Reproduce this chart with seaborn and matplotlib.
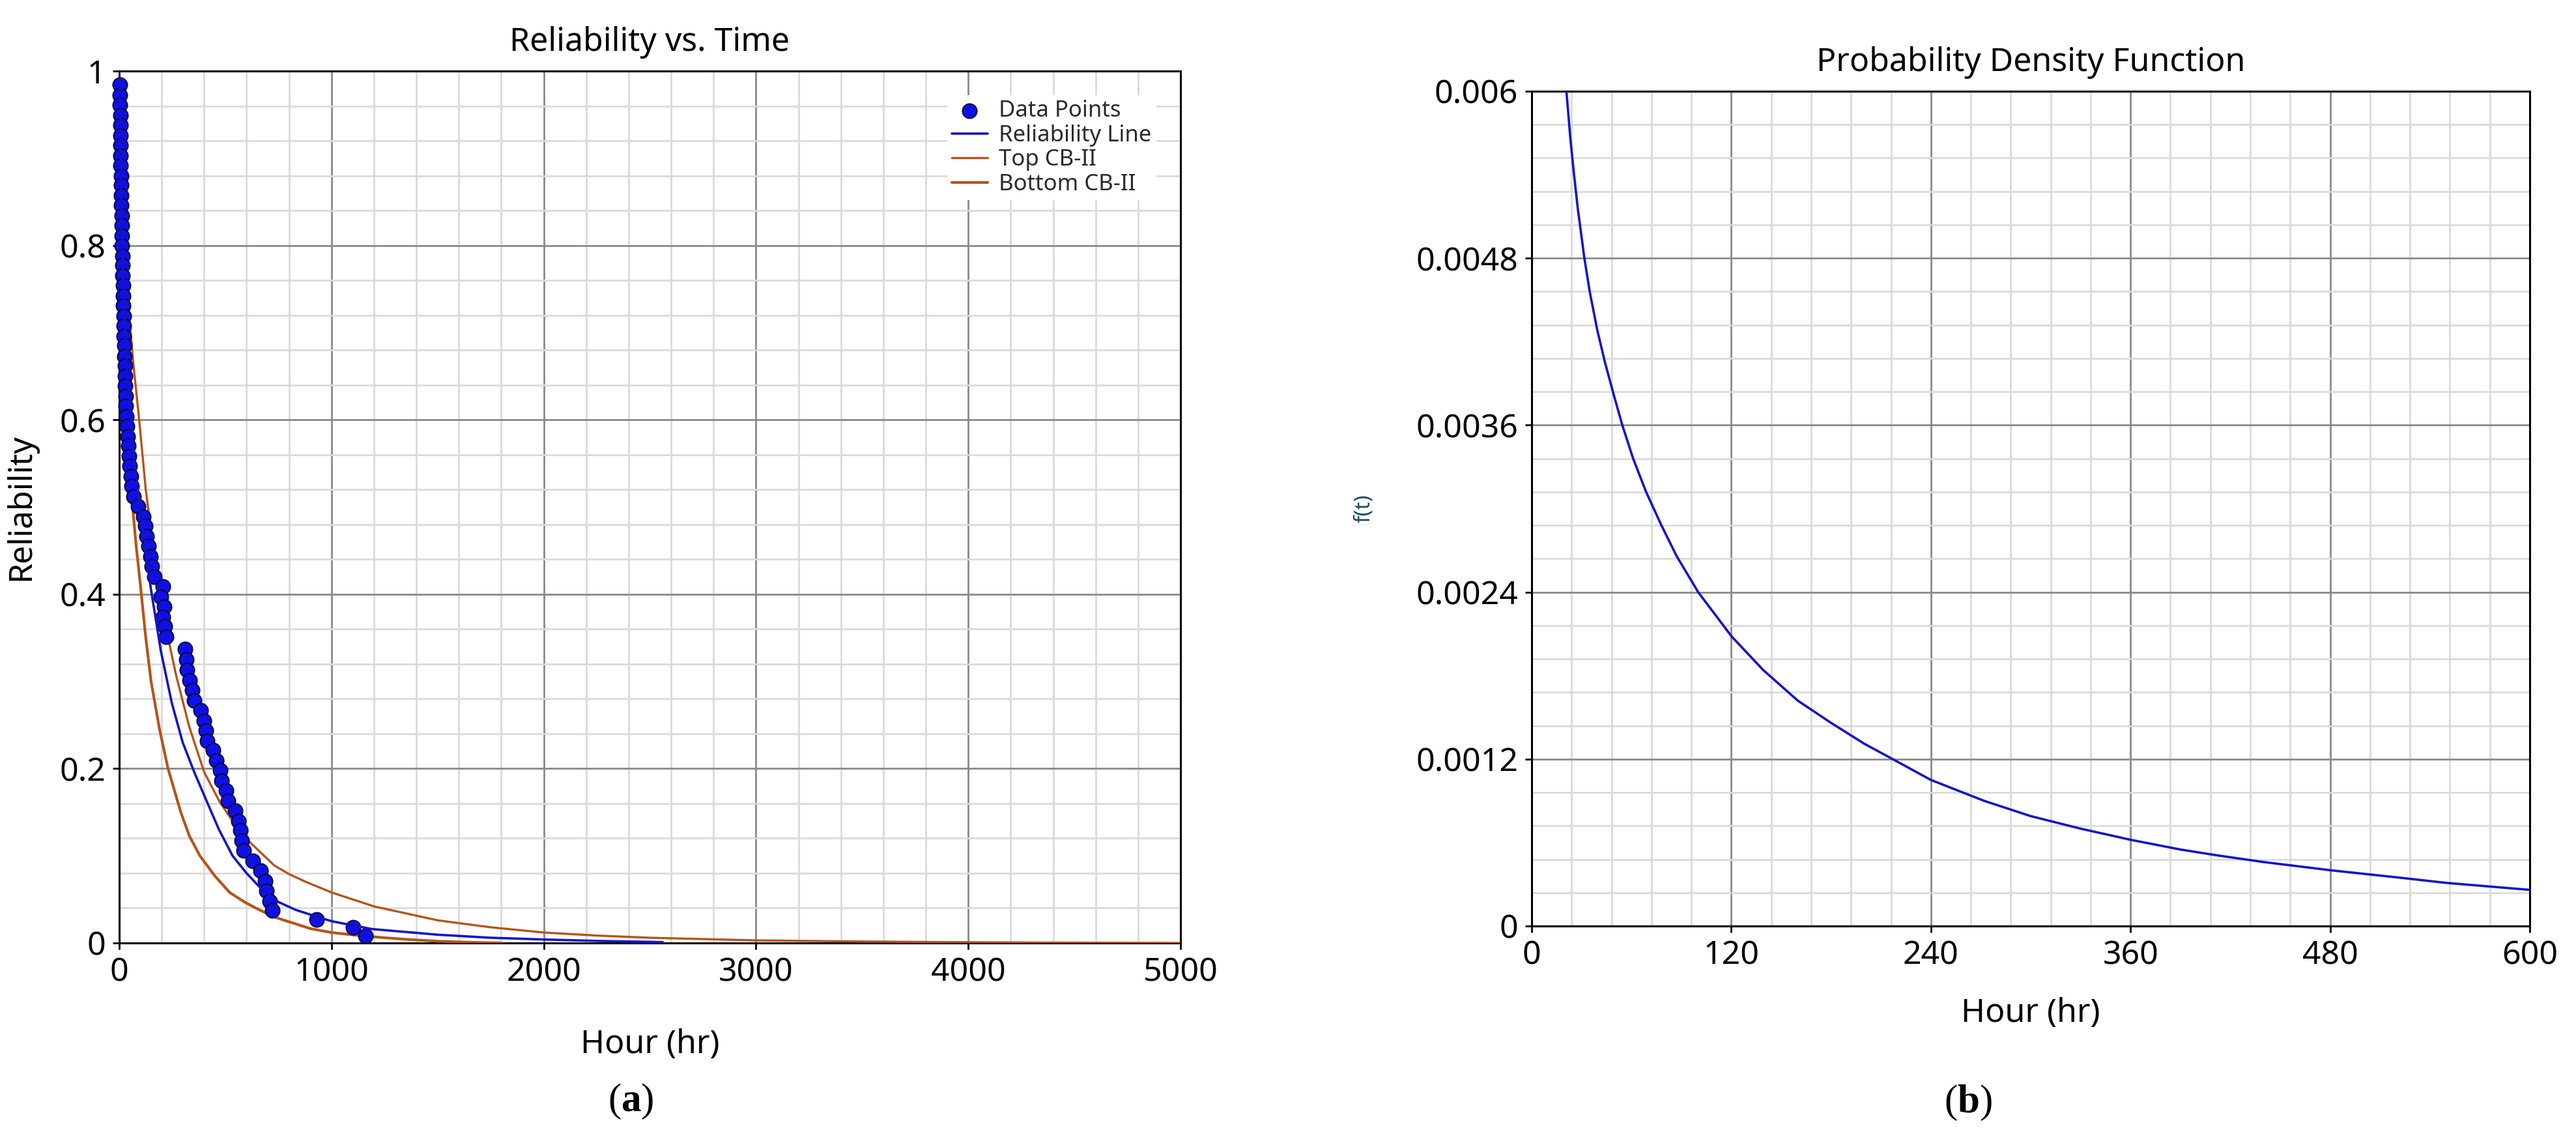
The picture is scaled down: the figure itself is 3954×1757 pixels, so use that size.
import numpy as np
import pandas as pd
import matplotlib
matplotlib.use('Agg')
import matplotlib.pyplot as plt
import seaborn as sns
from matplotlib.ticker import MultipleLocator, FixedLocator

# ---------------- data ----------------
data_hours = [3, 4, 4, 5, 5, 6, 6, 7, 7, 8, 9, 10, 10, 11, 12, 12, 13, 14, 15, 16,
              17, 18, 19, 20, 21, 22, 24, 25, 27, 28,
              28, 30, 32, 35, 38, 40, 43, 46, 50, 54, 58,
              68, 88,
              115, 122, 130, 138, 146, 155, 165,
              205, 195, 212, 205, 215, 220,
              311, 315, 318, 331, 344, 354, 384, 398, 409, 413, 443, 457, 476, 482,
              502, 512, 547, 561, 571, 577, 587, 630, 665, 689, 695, 709, 722,
              931, 1102, 1161]
data_rel = [0.984, 0.972, 0.961, 0.949, 0.938, 0.926, 0.915, 0.903, 0.892, 0.880,
            0.869, 0.857, 0.846, 0.834, 0.823, 0.811, 0.800, 0.788, 0.777, 0.765,
            0.754, 0.742, 0.731, 0.719, 0.708, 0.696, 0.685, 0.673, 0.662, 0.650,
            0.639, 0.627, 0.616, 0.604, 0.593, 0.581, 0.570, 0.558, 0.547, 0.535, 0.524,
            0.512, 0.501,
            0.489, 0.478, 0.466, 0.455, 0.443, 0.432, 0.420,
            0.409, 0.397, 0.386, 0.374, 0.363, 0.351,
            0.337, 0.325, 0.313, 0.301, 0.290, 0.278, 0.267, 0.255, 0.244, 0.232,
            0.221, 0.209, 0.198, 0.186, 0.175, 0.163, 0.152, 0.140, 0.129, 0.117,
            0.106, 0.094, 0.083, 0.071, 0.060, 0.048, 0.037,
            0.027, 0.018, 0.008]

line_hours = [0, 3, 8, 15, 25, 40, 63, 94, 125, 150, 196, 248, 299, 355, 422, 470,
              534, 600, 678, 750, 831, 920, 1000, 1190, 1500, 1750, 2000, 2280, 2560]
line_rel = [1.0, 0.93, 0.86, 0.79, 0.72, 0.65, 0.575, 0.505, 0.449, 0.405, 0.335,
            0.275, 0.23, 0.195, 0.157, 0.13, 0.1, 0.08, 0.06, 0.047, 0.038, 0.031,
            0.025, 0.016, 0.0095, 0.006, 0.004, 0.0022, 0.001]

top_hours = [0, 4, 10, 20, 40, 67, 94, 125, 166, 217, 268, 330, 400, 473, 575, 730,
             800, 880, 1000, 1100, 1200, 1500, 1750, 2000, 2250, 2500, 3000, 3450,
             3900, 4400, 5000]
top_rel = [1.0, 0.95, 0.9, 0.83, 0.74, 0.663, 0.6, 0.52, 0.443, 0.365, 0.307, 0.248,
           0.196, 0.162, 0.125, 0.089, 0.079, 0.07, 0.058, 0.05, 0.042, 0.026, 0.018,
           0.012, 0.0085, 0.006, 0.003, 0.0018, 0.001, 0.0004, 0.0]

bot_hours = [0, 3, 12, 27, 43, 63, 80, 100, 125, 150, 190, 230, 290, 330, 380, 450,
             520, 590, 660, 740, 830, 900, 1000, 1100, 1250, 1350, 1500, 1650, 1800]
bot_rel = [1.0, 0.92, 0.78, 0.68, 0.6, 0.5, 0.455, 0.41, 0.35, 0.3, 0.245, 0.2, 0.15,
           0.123, 0.1, 0.077, 0.058, 0.047, 0.038, 0.029, 0.022, 0.0165, 0.012, 0.0093,
           0.006, 0.0042, 0.002, 0.0008, 0.0]

pdf_hours = [20.9, 23.2, 25.2, 27.8, 31.7, 34.9, 39.5, 44.1, 49.3, 54.5, 61.0, 68.8,
             78.0, 87.1, 100.1, 120.3, 139.2, 160, 180, 200, 217, 240, 272, 300, 330,
             360, 390, 411, 440, 481, 520, 550, 570, 600]
pdf_vals = [0.006, 0.00567, 0.00543, 0.00515, 0.0048, 0.00456, 0.00428, 0.00405,
            0.00382, 0.0036, 0.00336, 0.00312, 0.00288, 0.00266, 0.0024, 0.00208,
            0.00184, 0.00162, 0.00146, 0.00131, 0.0012, 0.00105, 0.0009, 0.00079,
            0.0007, 0.00062, 0.00055, 0.00051, 0.00046, 0.0004, 0.00035, 0.00031,
            0.00029, 0.00026]

rel_xticks = [0, 1000, 2000, 3000, 4000, 5000]
rel_yticks = [0, 0.2, 0.4, 0.6, 0.8, 1.0]
rel_ylabels = ['0', '0.2', '0.4', '0.6', '0.8', '1']
pdf_xticks = [0, 120, 240, 360, 480, 600]
pdf_yticks = [0, 0.0012, 0.0024, 0.0036, 0.0048, 0.006]
pdf_ylabels = ['0', '0.0012', '0.0024', '0.0036', '0.0048', '0.006']

# ---------------- style ----------------
sns.set_theme(style='white')
plt.rcParams['font.family'] = ['Noto Sans', 'DejaVu Sans']
plt.rcParams['mathtext.fontset'] = 'custom'
plt.rcParams['mathtext.rm'] = 'Liberation Serif'
plt.rcParams['mathtext.bf'] = 'Liberation Serif:bold'

W, H, DPI = 3955, 1757, 200
fig = plt.figure(figsize=(W / DPI, H / DPI), dpi=DPI)
fig.patch.set_facecolor('white')
ax1 = fig.add_axes([183 / W, (H - 1447) / H, 1629 / W, 1338 / H])
ax2 = fig.add_axes([2351 / W, (H - 1421) / H, 1532 / W, 1281 / H])

BLUE = '#1414c8'
BROWN = '#b5531c'
FS = 18


def style_axes(ax):
    ax.set_axisbelow(True)
    ax.grid(which='minor', color='#dadada', lw=1.0)
    ax.grid(which='major', color='#8a8a8a', lw=1.0)
    for s in ax.spines.values():
        s.set_visible(True)
        s.set_color('black')
        s.set_linewidth(1.1)
    ax.tick_params(which='major', direction='out', length=3.5, width=1.0,
                   color='black', labelsize=FS, labelcolor='black', pad=4,
                   left=True, bottom=True)
    ax.tick_params(which='minor', length=0)


# ---------------- (a) Reliability vs. Time ----------------
df_pts = pd.DataFrame({'Hour': data_hours, 'Reliability': data_rel})
df_line = pd.DataFrame({'Hour': line_hours, 'Reliability': line_rel})
df_top = pd.DataFrame({'Hour': top_hours, 'Reliability': top_rel})
df_bot = pd.DataFrame({'Hour': bot_hours, 'Reliability': bot_rel})

sns.lineplot(data=df_top, x='Hour', y='Reliability', ax=ax1, color=BROWN, lw=1.2,
             sort=False, estimator=None, label='Top CB-II', zorder=3)
sns.lineplot(data=df_bot, x='Hour', y='Reliability', ax=ax1, color=BROWN, lw=1.5,
             sort=False, estimator=None, label='Bottom CB-II', zorder=3)
sns.scatterplot(data=df_pts, x='Hour', y='Reliability', ax=ax1, color='#1010e6',
                edgecolor='#0a0a50', linewidth=0.8, s=62, label='Data Points',
                zorder=4, clip_on=False)
sns.lineplot(data=df_line, x='Hour', y='Reliability', ax=ax1, color=BLUE, lw=1.3,
             sort=False, estimator=None, label='Reliability Line', zorder=5)

ax1.set_xlim(0, 5000)
ax1.set_ylim(0, 1)
ax1.xaxis.set_major_locator(FixedLocator(rel_xticks))
ax1.xaxis.set_minor_locator(MultipleLocator(200))
ax1.yaxis.set_major_locator(FixedLocator(rel_yticks))
ax1.yaxis.set_minor_locator(MultipleLocator(0.04))
ax1.set_yticklabels(rel_ylabels)
ax1.set_xticklabels([str(v) for v in rel_xticks])
style_axes(ax1)
ax1.set_title('Reliability vs. Time', fontsize=FS, pad=11, color='black')
ax1.set_xlabel('Hour (hr)', fontsize=FS, color='black')
ax1.set_ylabel('Reliability', fontsize=FS, color='black')
ax1.xaxis.set_label_coords(0.5, -0.098)
ax1.yaxis.set_label_coords(-0.077, 0.5)

handles, labels = ax1.get_legend_handles_labels()
order = ['Data Points', 'Reliability Line', 'Top CB-II', 'Bottom CB-II']
hmap = dict(zip(labels, handles))
leg = ax1.legend([hmap[k] for k in order], order, loc='upper left',
                 bbox_to_anchor=(0.78, 0.972), fontsize=12.5, frameon=True,
                 facecolor='white', edgecolor='none', framealpha=1.0,
                 borderpad=0.2, labelspacing=0.1, handlelength=1.6,
                 handletextpad=0.5, borderaxespad=0.0, fancybox=False)
for t in leg.get_texts():
    t.set_color('#2a2a2a')

# ---------------- (b) Probability Density Function ----------------
df_pdf = pd.DataFrame({'Hour': pdf_hours, 'f': pdf_vals})
sns.lineplot(data=df_pdf, x='Hour', y='f', ax=ax2, color=BLUE, lw=1.3,
             sort=False, estimator=None, zorder=3)
ax2.set_xlim(0, 600)
ax2.set_ylim(0, 0.006)
ax2.xaxis.set_major_locator(FixedLocator(pdf_xticks))
ax2.xaxis.set_minor_locator(MultipleLocator(24))
ax2.yaxis.set_major_locator(FixedLocator(pdf_yticks))
ax2.yaxis.set_minor_locator(MultipleLocator(0.00024))
ax2.set_yticklabels(pdf_ylabels)
ax2.set_xticklabels([str(v) for v in pdf_xticks])
style_axes(ax2)
ax2.set_title('Probability Density Function', fontsize=FS, pad=11, color='black')
ax2.set_xlabel('Hour (hr)', fontsize=FS, color='black')
ax2.set_ylabel('f(t)', fontsize=12, color='#1f4e5f')
ax2.xaxis.set_label_coords(0.5, -0.085)
ax2.yaxis.set_label_coords(-0.157, 0.5)

# ---------------- panel labels ----------------
fig.text(968 / W, 1 - 1690 / H, r'($\mathbf{a}$)', ha='center', va='center',
         fontsize=22, family='Liberation Serif', color='black')
fig.text(3021 / W, 1 - 1692 / H, r'($\mathbf{b}$)', ha='center', va='center',
         fontsize=22, family='Liberation Serif', color='black')

fig.savefig('out.png', dpi=DPI, facecolor='white')
